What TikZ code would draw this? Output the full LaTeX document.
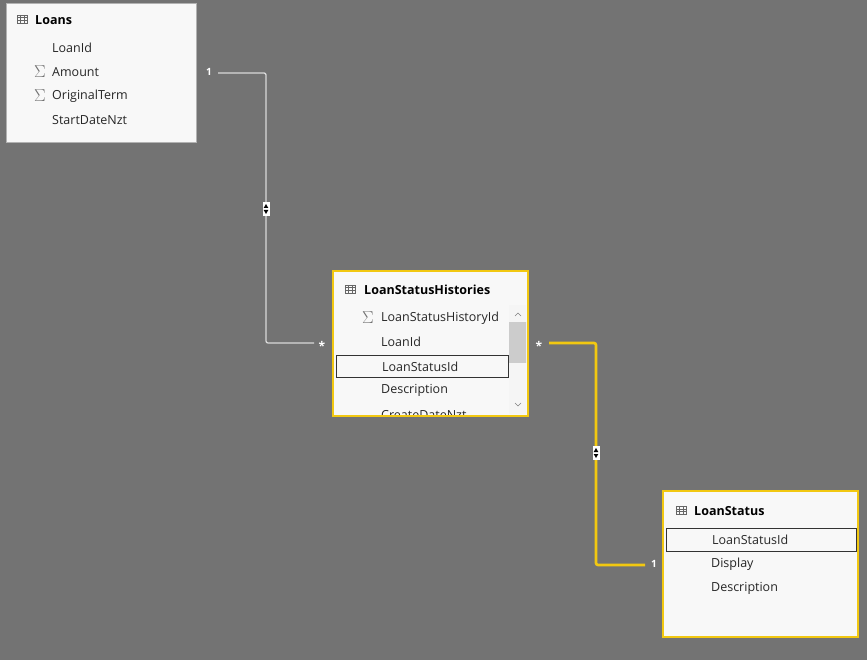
\documentclass[tikz,border=0pt]{standalone}
\usepackage{fontspec}
\setmainfont{Open Sans}
\definecolor{canvas}{HTML}{737373}
\definecolor{boxfill}{HTML}{F8F8F8}
\definecolor{hilite}{HTML}{F2C811}
\definecolor{sigmagray}{HTML}{707070}
\tikzset{
  field/.style={anchor=west, inner sep=0pt, font=\fontsize{12.5}{14}\selectfont, text=black!85},
  title/.style={anchor=west, inner sep=0pt, font=\fontsize{12.5}{14}\selectfont\bfseries},
  sigma/.style={anchor=center, inner sep=0pt, text=sigmagray, font=\fontsize{17}{18}\selectfont},
  card/.style={anchor=center, inner sep=0pt, text=white, font=\fontsize{10}{11}\selectfont\bfseries},
  rel/.style={draw=white!85!black, line width=1.3pt, rounded corners=2pt},
  relsel/.style={draw=hilite, line width=2.6pt, rounded corners=2pt},
}
\newcommand{\tableicon}[1]{%
  \draw[black!60, line width=0.5pt] ($(#1)+(-5,-4)$) rectangle ($(#1)+(5,4)$);
  \foreach \dy in {-1.3,1.3} \draw[black!60, line width=0.4pt] ($(#1)+(-5,\dy)$) -- ($(#1)+(5,\dy)$);
  \foreach \dx in {-1.7,1.7} \draw[black!60, line width=0.4pt] ($(#1)+(\dx,-4)$) -- ($(#1)+(\dx,4)$);
}
\newcommand{\crossmark}[1]{%
  \fill[white] ($(#1)+(-3.5,-7)$) rectangle ($(#1)+(3.5,7)$);
  \fill[black] ($(#1)+(-2.3,-1)$) -- ($(#1)+(2.3,-1)$) -- ($(#1)+(0,-5)$) -- cycle;
  \fill[black] ($(#1)+(-2.3,1)$) -- ($(#1)+(2.3,1)$) -- ($(#1)+(0,5)$) -- cycle;
}
\usetikzlibrary{calc}
\begin{document}
\begin{tikzpicture}[x=1pt, y=-1pt]
  \fill[canvas] (0,0) rectangle (867,660);
  \useasboundingbox (0,0) rectangle (867,660);

  % Loans
  \draw[boxfill, fill=boxfill, draw=black!30] (6,3) rectangle (196,142);
  \coordinate (loansicon) at (22,19);
  \tableicon{loansicon}
  \node[title] (loans) at (35,20) {Loans};
  \node[field] (loanid) at (52,48) {LoanId};
  \node[sigma] at (40,72) {$\Sigma$};
  \node[field] (amount) at (52,72) {Amount};
  \node[sigma] at (40,96) {$\Sigma$};
  \node[field] (origterm) at (52,96) {OriginalTerm};
  \node[field] (startdate) at (52,120) {StartDateNzt};

  % LoanStatusHistories
  \fill[boxfill] (333,271) rectangle (528,416);
  \begin{scope}
    \clip (335,273) rectangle (526,414);
    \coordinate (lshicon) at (350,289);
    \tableicon{lshicon}
    \node[title] (lsh) at (364,290) {LoanStatusHistories};
    \node[sigma] at (368,318) {$\Sigma$};
    \node[field] (lshid) at (381,318) {LoanStatusHistoryId};
    \node[field] (lshloanid) at (381,342) {LoanId};
    \draw[black!80, line width=0.7pt] (336,355) rectangle (508,377);
    \node[field] (lshstatusid) at (382,367) {LoanStatusId};
    \node[field] (lshdesc) at (381,390) {Description};
    \node[field] (lshcreate) at (381,415) {CreateDateNzt};
    \fill[black!4] (509,305) rectangle (527,414);
    \fill[black!20] (509,322) rectangle (527,363);
    \draw[black!50, line width=0.5pt] (515,316) -- (518,313) -- (521,316);
    \draw[black!50, line width=0.5pt] (515,403) -- (518,406) -- (521,403);
  \end{scope}
  \draw[hilite, line width=2.6pt] (333,271) rectangle (528,416);

  % LoanStatus
  \fill[boxfill] (663,491) rectangle (858,637);
  \coordinate (lsicon) at (681,510);
  \tableicon{lsicon}
  \node[title] (ls) at (694,511) {LoanStatus};
  \draw[black!80, line width=0.7pt] (666,528) rectangle (856,551);
  \node[field] (lsid) at (712,540) {LoanStatusId};
  \node[field] (lsdisplay) at (711,564) {Display};
  \node[field] (lsdesc) at (711,588) {Description};
  \draw[hilite, line width=2.6pt] (663,491) rectangle (858,637);

  % relationships
  \node[card] (one1) at (209,72) {1};
  \node[card, font=\large\bfseries] (many1) at (322,346) {*};
  \node[card, font=\large\bfseries] (many2) at (539,346) {*};
  \node[card] (one2) at (654,564) {1};
  \draw[rel] (218,73) -- (266,73) -- (266,343) -- (314,343);
  \draw[relsel] (549,343) -- (596,343) -- (596,565) -- (645,565);
  \coordinate (mark1) at (266,209);
  \crossmark{mark1}
  \coordinate (mark2) at (596,453);
  \crossmark{mark2}
\end{tikzpicture}
\end{document}
